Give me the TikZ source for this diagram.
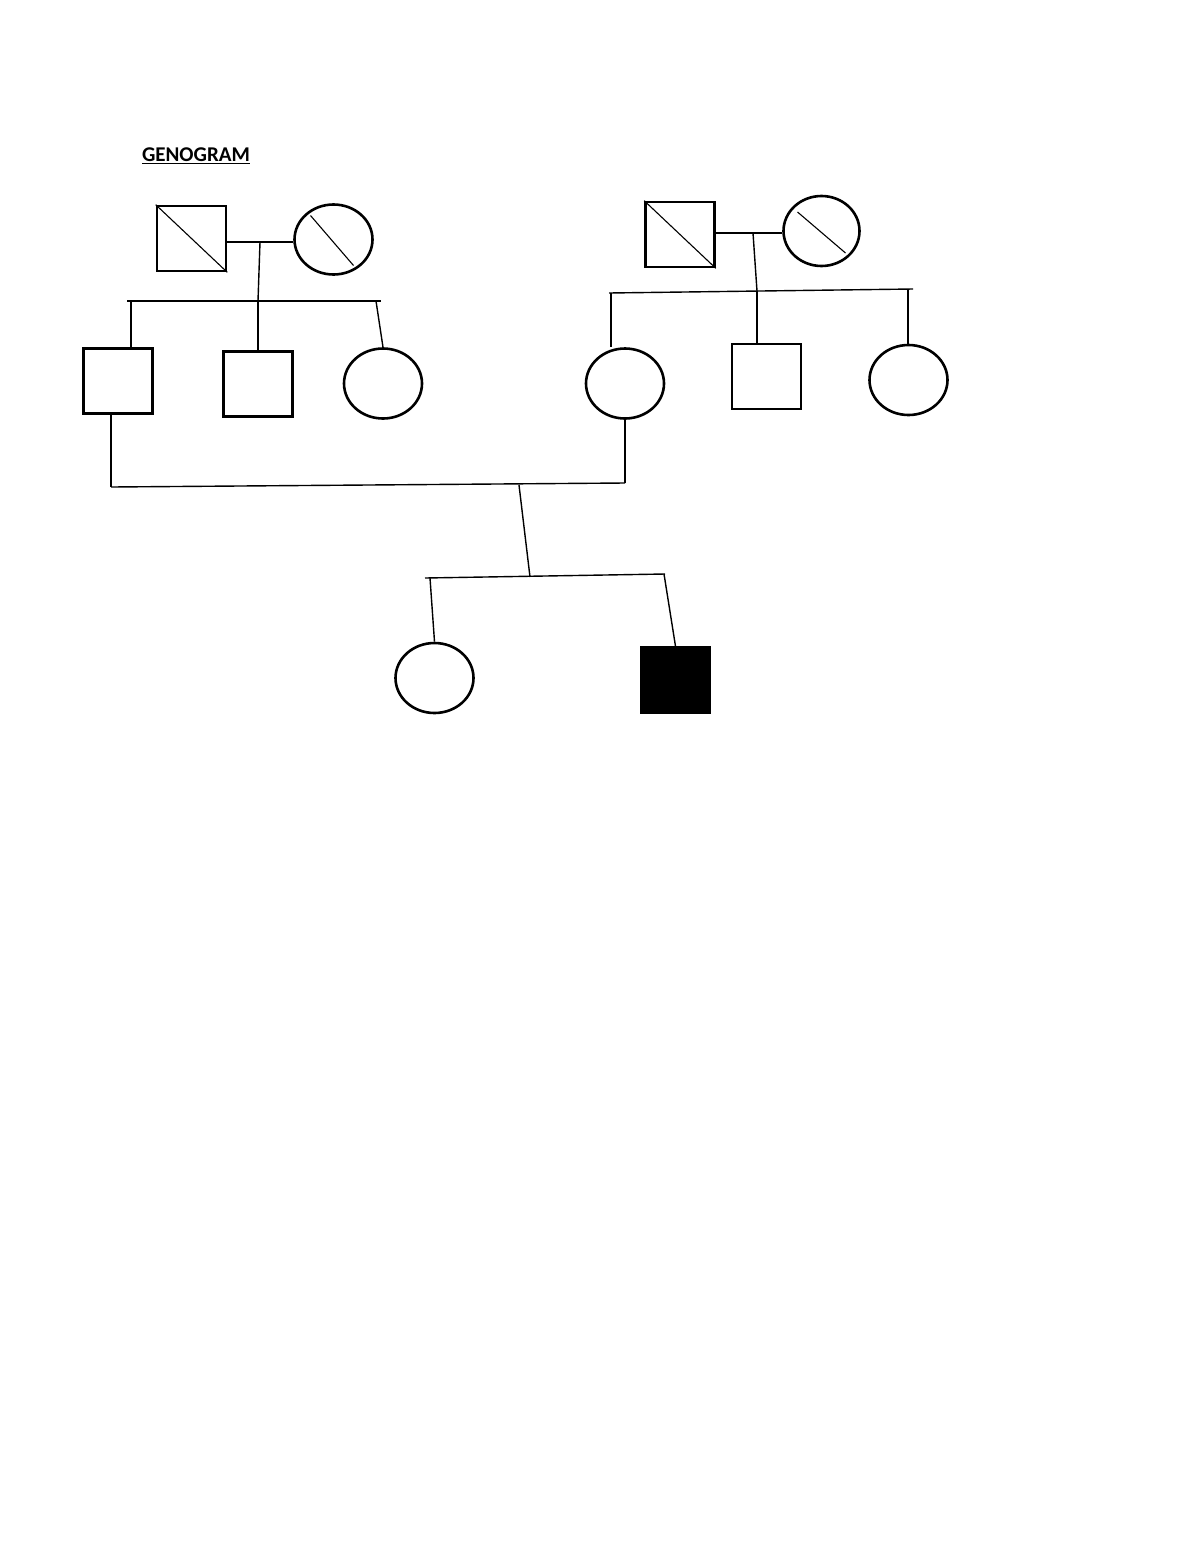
\documentclass[tikz,border=0pt]{standalone}
\usepackage{fontspec}
\setmainfont{Carlito}
\usepackage{tikz}
\usetikzlibrary{shapes.geometric}

\begin{document}
\begin{tikzpicture}[x=1pt,y=-1pt,
  male/.style={shape=rectangle,draw=black,line width=2.6pt,inner sep=0pt,minimum width=69pt,minimum height=65pt},
  female/.style={shape=ellipse,draw=black,line width=2.6pt,inner sep=0pt,minimum width=78pt,minimum height=70pt},
  link/.style={draw=black,line width=1.4pt},
  cross/.style={draw=black,line width=1.1pt}]
\fill[white] (0,0) rectangle (1200,1553);
\useasboundingbox (0,0) rectangle (1200,1553);
\node[font=\fontsize{21}{25}\selectfont\bfseries] (T) at (196,156) {\underline{GENOGRAM}};
% grandparents, left side
\node[male] (GF1) at (191.5,238.5) {};
\node[female] (GM1) at (333.5,239.5) {};
\node[male] (C11) at (118,381) {};
\node[male] (C12) at (258,384) {};
\node[female] (C13) at (383,383.5) {};
% grandparents, right side
\node[male] (GF2) at (680,234.5) {};
\node[female,minimum width=76pt] (GM2) at (821.5,231) {};
\node[female] (C21) at (625,383.5) {};
\node[male] (C22) at (766.5,376.5) {};
\node[female] (C23) at (908.5,380) {};
% grandchildren
\node[female] (G1) at (434.5,678) {};
\node[male,fill=black] (G2) at (675.5,680) {};
% deceased
\path [cross] (GF1.north west) edge (GF1.south east);
\path [cross] (GF2.north west) edge (GF2.south east);
\draw [cross] (GM1.center) ++(-23,-24) -- ++(43,50);
\draw [cross] (GM2.center) ++(-24,-19) -- ++(48,41);
% junctions
\coordinate (M1) at (260,242);
\coordinate (S1) at (258,301);
\coordinate (S1a) at (127,301);
\coordinate (S1b) at (381,301);
\coordinate (D11) at (131,301);
\coordinate (D13) at (376,301);
\coordinate (M2) at (753,233);
\coordinate (S2) at (757,291);
\coordinate (S2a) at (609,293);
\coordinate (S2b) at (913,289);
\coordinate (D21) at (611,293);
\coordinate (D23) at (908,289);
\coordinate (K1) at (111,487);
\coordinate (K2) at (625,483);
\coordinate (K3) at (519,485);
\coordinate (S3) at (530,577);
\coordinate (S3a) at (425,578);
\coordinate (S3b) at (665,574);
\coordinate (D31) at (430,578);
\coordinate (D32) at (664,574);
% left family
\path [link] (GF1.east |- M1) edge (GM1.west |- M1);
\path [link] (M1) edge (S1);
\path [link] (S1a) edge (S1b);
\path [link] (D11) edge (D11 |- C11.north);
\path [link] (S1) edge (C12.north);
\path [link] (D13) edge (C13.north);
% right family
\path [link] (GF2.east |- M2) edge (GM2.west |- M2);
\path [link] (M2) edge (S2);
\path [link] (S2a) edge (S2b);
\path [link] (D21) edge (D21 |- C21.north);
\path [link] (S2) edge (S2 |- C22.north);
\path [link] (D23) edge (D23 |- C23.north);
% couple and children
\path [link] (K1 |- C11.south) edge (K1);
\path [link] (C21.south) edge (K2);
\path [link] (K1) edge (K2);
\path [link] (K3) edge (S3);
\path [link] (S3a) edge (S3b);
\path [link] (D31) edge (G1.north);
\path [link] (D32) edge (G2.north);
\end{tikzpicture}
\end{document}
